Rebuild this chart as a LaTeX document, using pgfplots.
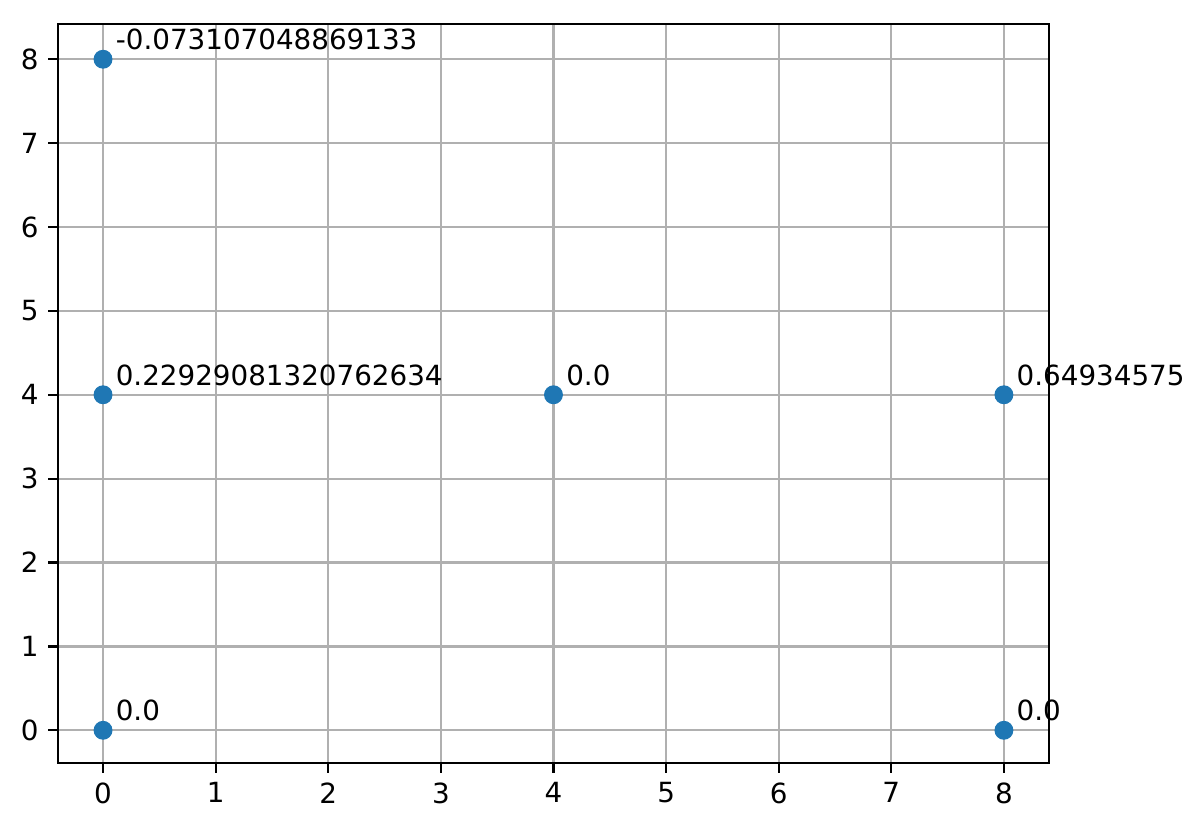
\documentclass[border=0pt]{standalone}
\usepackage{fontspec}
\setmainfont{DejaVu Sans}
\usepackage{pgfplots}
\pgfplotsset{compat=1.18}
\definecolor{mplblue}{HTML}{1F77B4}
\definecolor{gridgray}{HTML}{B0B0B0}
\begin{document}
\begin{tikzpicture}
\begin{axis}[
  at={(0pt,0pt)}, anchor=south west,
  scale only axis,
  width=356.76pt, height=266.04pt,
  xmin=-0.4, xmax=8.4, ymin=-0.39, ymax=8.42,
  xtick={0,1,...,8}, ytick={0,1,...,8},
  grid=major,
  major grid style={gridgray, line width=0.8pt},
  axis line style={black, line width=0.8pt},
  tick style={black, line width=0.8pt},
  major tick length=3.5pt,
  tick align=outside,
  xtick pos=bottom, ytick pos=left,
  axis on top,
  clip=false,
  /pgf/number format/assume math mode=true,
  tick label style={font=\fontsize{10}{12}\selectfont},
  point meta=explicit symbolic,
  nodes near coords,
  every node near coord/.append style={anchor=base west, xshift=4.4pt, yshift=3.4pt, inner sep=0pt, font=\fontsize{10}{12}\selectfont, text=black},
]
\addplot[only marks, mark=*, mark size=3.2pt, mark options={fill=mplblue, draw=mplblue}] table[meta=label] {
x y label
0 8 -0.073107048869133
0 4 0.22929081320762634
0 0 0.0
4 4 0.0
8 4 0.64934575
8 0 0.0
};
\end{axis}
\pgfresetboundingbox
\useasboundingbox (-20.88pt,-18.36pt) rectangle (408.24pt,274.68pt);
\end{tikzpicture}
\end{document}
